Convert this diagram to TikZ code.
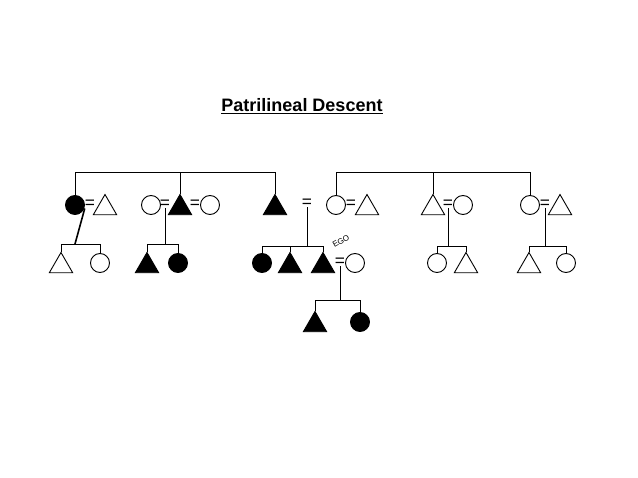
\documentclass[tikz,border=0pt]{standalone}
\usepackage{fontspec}
\setmainfont{Liberation Sans}
\usetikzlibrary{shapes.geometric}
\tikzset{
  m/.style={regular polygon,regular polygon sides=3,draw,line width=0.9pt,minimum size=27pt,inner sep=0pt},
  f/.style={circle,draw,line width=0.9pt,minimum size=19pt,inner sep=0pt},
  mb/.style={m,fill=black},
  fb/.style={f,fill=black},
  eq/.style={font=\LARGE,inner sep=0pt},
  ln/.style={line width=0.8pt}
}
\begin{document}
\begin{tikzpicture}[x=1pt,y=-1pt]
  \useasboundingbox (0,0) rectangle (638,478);
  \node[font=\bfseries\fontsize{18}{20}\selectfont] (title) at (302,106) {\underline{Patrilineal Descent}};

  % first generation
  \node[fb] (a1) at (75,205) {};
  \node[eq] (e1) at (90,204) {=};
  \node[m]  (a2) at (105,208) {};
  \node[f]  (b1) at (151,205) {};
  \node[eq] (e2) at (165,204) {=};
  \node[mb] (b2) at (180,208) {};
  \node[eq] (e3) at (195,204) {=};
  \node[f]  (b3) at (210,205) {};
  \node[mb] (c1) at (275,208) {};
  \node[eq] (e4) at (307,203) {=};
  \node[f]  (d1) at (336,205) {};
  \node[eq] (e5) at (351,204) {=};
  \node[m]  (d2) at (367,208) {};
  \node[m]  (g1) at (433,208) {};
  \node[eq] (e6) at (448,204) {=};
  \node[f]  (g2) at (463,205) {};
  \node[f]  (h1) at (530,205) {};
  \node[eq] (e7) at (545,204) {=};
  \node[m]  (h2) at (560,208) {};

  \coordinate (L1) at (75,172);
  \coordinate (L2) at (275,172);
  \coordinate (R1) at (336,172);
  \coordinate (R2) at (530,172);
  \draw[ln] (a1.north) -- (L1) -- (L2) -- (c1.north);
  \draw[ln] (b2.north) -- (b2.north |- L1);
  \draw[ln] (d1.north) -- (R1) -- (R2) -- (h1.north);
  \draw[ln] (g1.north) -- (g1.north |- R1);

  % second generation
  \node[m]  (k1) at (61,266) {};
  \node[f]  (k2) at (100,263) {};
  \node[mb] (k3) at (147,266) {};
  \node[fb] (k4) at (178,263) {};
  \node[fb] (k5) at (262,263) {};
  \node[mb] (k6) at (290,266) {};
  \node[mb] (ego) at (323,266) {};
  \node[eq] (e8) at (340,262) {=};
  \node[f]  (k7) at (355,263) {};
  \node[rotate=30,font=\footnotesize,inner sep=0pt] (egotxt) at (341,241) {EGO};
  \node[f]  (k8) at (437,263) {};
  \node[m]  (k9) at (466,266) {};
  \node[m]  (k10) at (529,266) {};
  \node[f]  (k11) at (566,263) {};

  \coordinate (s1) at (75,244);
  \draw[line width=1.6pt] (e1.south west) -- (s1);
  \draw[ln] (k1.north) -- (k1.north |- s1) -- (k2.north |- s1) -- (k2.north);
  \coordinate (s2) at (164,244);
  \draw[ln] (e2.south) -- (e2.south |- s2);
  \draw[ln] (k3.north) -- (k3.north |- s2) -- (k4.north |- s2) -- (k4.north);
  \coordinate (s3) at (307,246);
  \draw[ln] (e4.south) -- (e4.south |- s3);
  \draw[ln] (k5.north) -- (k5.north |- s3) -- (ego.north |- s3) -- (ego.north);
  \draw[ln] (k6.north) -- (k6.north |- s3);
  \coordinate (s4) at (449,246);
  \draw[ln] (e6.south) -- (e6.south |- s4);
  \draw[ln] (k8.north) -- (k8.north |- s4) -- (k9.north |- s4) -- (k9.north);
  \coordinate (s5) at (544,246);
  \draw[ln] (e7.south) -- (e7.south |- s5);
  \draw[ln] (k10.north) -- (k10.north |- s5) -- (k11.north |- s5) -- (k11.north);

  % third generation
  \node[mb] (t1) at (315,325) {};
  \node[fb] (t2) at (360,322) {};
  \coordinate (s6) at (341,300);
  \draw[ln] (e8.south) -- (e8.south |- s6);
  \draw[ln] (t1.north) -- (t1.north |- s6) -- (t2.north |- s6) -- (t2.north);
\end{tikzpicture}
\end{document}
